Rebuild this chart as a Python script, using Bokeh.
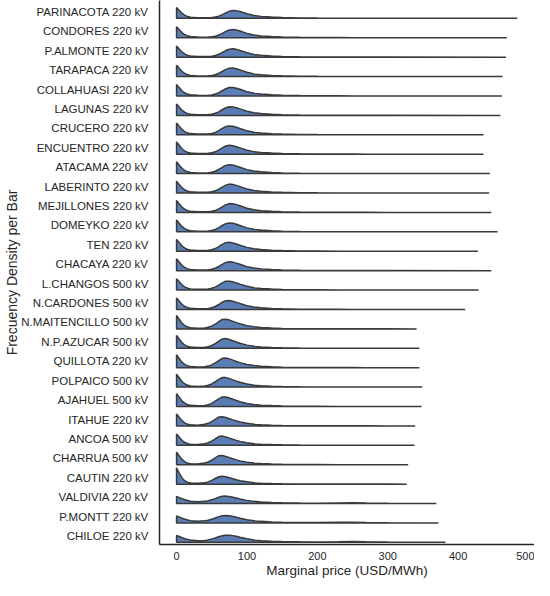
from bokeh.plotting import figure
from bokeh.models import ColumnDataSource, FixedTicker, Range1d
from bokeh.embed import file_html
from bokeh.resources import INLINE

stations = [
    "PARINACOTA 220 kV", "CONDORES 220 kV", "P.ALMONTE 220 kV", "TARAPACA 220 kV",
    "COLLAHUASI 220 kV", "LAGUNAS 220 kV", "CRUCERO 220 kV", "ENCUENTRO 220 kV",
    "ATACAMA 220 kV", "LABERINTO 220 kV", "MEJILLONES 220 kV", "DOMEYKO 220 kV",
    "TEN 220 kV", "CHACAYA 220 kV", "L.CHANGOS 500 kV", "N.CARDONES 500 kV",
    "N.MAITENCILLO 500 kV", "N.P.AZUCAR 500 kV", "QUILLOTA 220 kV", "POLPAICO 500 kV",
    "AJAHUEL 500 kV", "ITAHUE 220 kV", "ANCOA 500 kV", "CHARRUA 500 kV",
    "CAUTIN 220 kV", "VALDIVIA 220 kV", "P.MONTT 220 kV", "CHILOE 220 kV",
]

# maximum marginal price of each bar (USD/MWh)
max_price = [484, 469, 468, 463, 462, 460, 436, 436, 445, 444, 447, 456, 428, 447,
             429, 410, 341, 345, 345, 349, 348, 339, 338, 329, 327, 369, 372, 382]

# price grid (USD/MWh) at which the densities were read
price_grid = [0, 4, 8, 12, 16, 20, 30, 40, 45, 50, 55, 60, 65, 70, 75, 80, 85, 90,
              100, 110, 120, 135, 150, 175, 200, 230, 250, 270, 300]

# relative frequency density per bar at price_grid
density_rows = [
    [11.0, 8.0, 5.0, 3.0, 1.8, 1.2, 0.7, 0.6, 0.7, 0.9, 1.3, 2.2, 3.7, 5.6, 7.3, 8.0, 7.8, 7.0, 4.7, 2.9, 2.0, 1.3, 0.8, 0.4, 0.25, 0.15, 0.1, 0.08, 0.05],
    [11.0, 8.0, 5.0, 3.0, 1.8, 1.2, 0.7, 0.6, 0.7, 1.0, 1.6, 2.8, 4.5, 6.5, 7.9, 8.3, 7.8, 6.8, 4.4, 2.8, 1.9, 1.2, 0.8, 0.4, 0.25, 0.15, 0.1, 0.08, 0.05],
    [11.2, 8.1, 5.0, 3.0, 1.8, 1.2, 0.7, 0.6, 0.7, 1.0, 1.7, 2.9, 4.7, 6.7, 8.1, 8.5, 7.9, 6.8, 4.4, 2.8, 1.9, 1.2, 0.8, 0.4, 0.25, 0.15, 0.1, 0.08, 0.05],
    [11.5, 8.2, 5.0, 3.0, 1.8, 1.2, 0.7, 0.6, 0.8, 1.1, 1.9, 3.3, 5.3, 7.3, 8.5, 8.6, 7.9, 6.8, 4.3, 2.7, 1.9, 1.2, 0.75, 0.4, 0.22, 0.14, 0.1, 0.07, 0.05],
    [11.5, 8.2, 5.0, 3.0, 1.8, 1.2, 0.7, 0.6, 0.8, 1.1, 1.9, 3.3, 5.3, 7.3, 8.5, 8.6, 7.9, 6.8, 4.3, 2.7, 1.9, 1.2, 0.75, 0.4, 0.22, 0.14, 0.1, 0.07, 0.05],
    [11.5, 8.2, 5.0, 3.0, 1.8, 1.2, 0.7, 0.6, 0.8, 1.2, 2.1, 3.6, 5.7, 7.7, 8.7, 8.5, 7.7, 6.6, 4.2, 2.7, 1.9, 1.2, 0.75, 0.4, 0.22, 0.14, 0.1, 0.07, 0.05],
    [12.0, 8.5, 5.2, 3.0, 1.8, 1.2, 0.7, 0.7, 0.9, 1.4, 2.4, 4.2, 6.4, 8.3, 9.0, 8.6, 7.6, 6.4, 4.0, 2.6, 1.8, 1.1, 0.7, 0.35, 0.2, 0.12, 0.1, 0.07, 0.05],
    [12.5, 8.8, 5.3, 3.0, 1.8, 1.2, 0.7, 0.7, 0.9, 1.4, 2.4, 4.2, 6.4, 8.3, 9.0, 8.6, 7.6, 6.4, 4.0, 2.6, 1.8, 1.1, 0.7, 0.35, 0.2, 0.12, 0.1, 0.07, 0.05],
    [12.0, 8.5, 5.2, 3.0, 1.8, 1.2, 0.7, 0.7, 0.9, 1.4, 2.4, 4.2, 6.4, 8.3, 9.0, 8.6, 7.6, 6.4, 4.0, 2.6, 1.8, 1.1, 0.7, 0.35, 0.2, 0.12, 0.1, 0.07, 0.05],
    [12.0, 8.5, 5.2, 3.0, 1.8, 1.2, 0.7, 0.7, 0.9, 1.3, 2.2, 3.9, 6.0, 8.0, 9.0, 8.7, 7.7, 6.5, 4.1, 2.6, 1.8, 1.1, 0.7, 0.35, 0.2, 0.12, 0.1, 0.07, 0.05],
    [12.0, 8.5, 5.2, 3.0, 1.8, 1.2, 0.7, 0.7, 0.8, 1.2, 2.0, 3.6, 5.7, 7.8, 8.9, 8.8, 7.9, 6.7, 4.2, 2.7, 1.8, 1.1, 0.7, 0.35, 0.2, 0.12, 0.1, 0.07, 0.05],
    [12.0, 8.5, 5.2, 3.0, 1.8, 1.2, 0.7, 0.7, 0.9, 1.4, 2.4, 4.2, 6.4, 8.3, 9.0, 8.6, 7.6, 6.4, 4.0, 2.6, 1.8, 1.1, 0.7, 0.35, 0.2, 0.12, 0.1, 0.07, 0.05],
    [12.0, 8.5, 5.2, 3.0, 1.8, 1.2, 0.7, 0.7, 1.0, 1.6, 2.7, 4.6, 6.9, 8.7, 9.0, 8.4, 7.3, 6.1, 3.9, 2.5, 1.7, 1.0, 0.65, 0.32, 0.2, 0.12, 0.09, 0.06, 0.05],
    [12.0, 8.5, 5.2, 3.0, 1.8, 1.2, 0.7, 0.7, 0.9, 1.4, 2.4, 4.2, 6.4, 8.3, 9.0, 8.6, 7.6, 6.4, 4.0, 2.6, 1.8, 1.1, 0.7, 0.35, 0.2, 0.12, 0.1, 0.07, 0.05],
    [11.5, 8.2, 5.0, 3.0, 1.8, 1.2, 0.7, 0.8, 1.1, 1.8, 3.0, 5.0, 7.3, 8.9, 9.0, 8.3, 7.2, 6.0, 3.8, 2.4, 1.7, 1.0, 0.65, 0.32, 0.2, 0.12, 0.09, 0.06, 0.05],
    [11.5, 8.2, 5.0, 3.0, 1.8, 1.2, 0.7, 0.8, 1.1, 1.8, 3.0, 5.0, 7.3, 8.9, 9.0, 8.3, 7.2, 6.0, 3.8, 2.4, 1.7, 1.0, 0.65, 0.32, 0.2, 0.12, 0.09, 0.06, 0.05],
    [13.5, 9.5, 5.5, 3.2, 1.8, 1.2, 0.7, 1.0, 1.6, 2.8, 4.8, 7.2, 9.5, 9.8, 8.9, 7.6, 6.3, 5.1, 3.2, 2.1, 1.4, 0.9, 0.5, 0.25, 0.15, 0.1, 0.08, 0.05, 0.04],
    [13.0, 9.2, 5.4, 3.1, 1.8, 1.2, 0.7, 1.0, 1.6, 2.8, 4.8, 7.2, 9.5, 9.8, 8.9, 7.6, 6.3, 5.1, 3.2, 2.1, 1.4, 0.9, 0.5, 0.25, 0.15, 0.1, 0.08, 0.05, 0.04],
    [13.0, 9.2, 5.4, 3.1, 1.8, 1.2, 0.7, 1.0, 1.6, 2.8, 4.8, 7.2, 9.5, 9.8, 8.9, 7.6, 6.3, 5.1, 3.2, 2.1, 1.4, 0.9, 0.5, 0.25, 0.15, 0.1, 0.08, 0.05, 0.04],
    [13.0, 9.2, 5.4, 3.1, 1.8, 1.2, 0.7, 1.1, 1.8, 3.2, 5.4, 7.8, 9.7, 9.6, 8.6, 7.3, 6.0, 4.9, 3.1, 2.0, 1.4, 0.9, 0.5, 0.25, 0.15, 0.1, 0.08, 0.05, 0.04],
    [13.0, 9.2, 5.4, 3.1, 1.8, 1.2, 0.7, 1.1, 1.8, 3.2, 5.4, 7.8, 9.7, 9.6, 8.6, 7.3, 6.0, 4.9, 3.1, 2.0, 1.4, 0.9, 0.5, 0.25, 0.15, 0.1, 0.08, 0.05, 0.04],
    [12.0, 8.5, 5.0, 2.8, 1.6, 1.1, 0.8, 1.6, 2.6, 4.3, 6.6, 8.9, 9.3, 8.5, 7.3, 6.1, 5.0, 4.0, 2.6, 1.7, 1.2, 0.8, 0.5, 0.25, 0.15, 0.1, 0.08, 0.05, 0.04],
    [11.5, 8.2, 4.8, 2.8, 1.6, 1.1, 0.8, 1.6, 2.6, 4.3, 6.6, 8.9, 9.3, 8.5, 7.3, 6.1, 5.0, 4.0, 2.6, 1.7, 1.2, 0.8, 0.5, 0.25, 0.15, 0.1, 0.08, 0.05, 0.04],
    [12.7, 8.9, 5.2, 2.9, 1.6, 1.1, 0.8, 1.7, 2.8, 4.6, 6.9, 9.1, 9.3, 8.4, 7.2, 6.0, 4.9, 3.9, 2.5, 1.7, 1.2, 0.8, 0.5, 0.25, 0.15, 0.1, 0.08, 0.05, 0.04],
    [16.5, 11.0, 6.0, 3.2, 1.8, 1.2, 0.8, 1.5, 2.3, 3.8, 5.7, 7.5, 8.0, 7.4, 6.4, 5.4, 4.4, 3.5, 2.3, 1.5, 1.0, 0.7, 0.45, 0.22, 0.14, 0.1, 0.07, 0.05, 0.04],
    [7.2, 6.0, 4.8, 3.8, 3.0, 2.4, 1.7, 2.2, 2.8, 3.8, 5.0, 6.4, 7.3, 7.5, 7.1, 6.4, 5.6, 4.7, 3.2, 2.2, 1.5, 1.0, 0.7, 0.45, 0.35, 0.6, 0.8, 0.5, 0.25],
    [7.0, 5.9, 4.7, 3.7, 2.9, 2.3, 1.7, 2.2, 2.8, 3.8, 5.0, 6.4, 7.3, 7.6, 7.2, 6.5, 5.7, 4.8, 3.3, 2.3, 1.6, 1.0, 0.7, 0.45, 0.35, 0.6, 0.8, 0.5, 0.25],
    [7.0, 5.9, 4.7, 3.7, 2.9, 2.3, 1.7, 2.0, 2.5, 3.3, 4.4, 5.7, 6.7, 7.3, 7.3, 6.8, 6.1, 5.2, 3.6, 2.5, 1.7, 1.1, 0.75, 0.5, 0.4, 0.6, 0.85, 0.55, 0.3],
]

x_ticks = [0, 100, 200, 300, 400, 500]

# ---- build the ridges ----
n = len(stations)
px_per_row = 19.6          # vertical pixel spacing of the rows in the reference
label_shift = 0.33         # baseline sits a little below its label
xs, ys = [], []
for i in range(n):
    base = (n - 1 - i) - label_shift
    dens = density_rows[i]
    xs.append([0] + price_grid + [max_price[i], 0])
    ys.append([base] + [base + d / px_per_row for d in dens] + [base, base])

src = ColumnDataSource(dict(xs=xs, ys=ys))

p = figure(width=534, height=580,
           x_range=Range1d(-24.2, 508.4), y_range=Range1d(-0.44, 27.59),
           output_backend="svg", toolbar_location=None,
           min_border_left=159, min_border_right=0, min_border_top=0, min_border_bottom=36)

p.patches("xs", "ys", source=src, fill_color="#4C72B0", fill_alpha=0.92,
          line_color="#3a3a3a", line_width=1.5)

p.outline_line_color = None
p.xgrid.grid_line_color = None
p.ygrid.grid_line_color = None
p.background_fill_color = "white"
p.border_fill_color = "white"

font = "Liberation Sans"
p.xaxis.ticker = FixedTicker(ticks=x_ticks)
p.yaxis.ticker = FixedTicker(ticks=[n - 1 - i for i in range(n)])
p.yaxis.major_label_overrides = {n - 1 - i: stations[i] for i in range(n)}

for ax in (p.xaxis[0], p.yaxis[0]):
    ax.major_tick_line_color = None
    ax.minor_tick_line_color = None
    ax.major_tick_out = 0
    ax.major_tick_in = 0
    ax.minor_tick_out = 0
    ax.minor_tick_in = 0
    ax.axis_line_color = "#262626"
    ax.axis_line_width = 1.5
    ax.major_label_text_font = font
    ax.major_label_text_color = "#262626"
    ax.axis_label_text_font = font
    ax.axis_label_text_font_style = "normal"
    ax.axis_label_text_color = "#262626"

p.xaxis.major_label_text_font_size = "11px"
p.yaxis.major_label_text_font_size = "11.5px"
p.xaxis.axis_label_text_font_size = "13.5px"
p.yaxis.axis_label_text_font_size = "14px"
p.xaxis.axis_label = "Marginal price (USD/MWh)"
p.yaxis.axis_label = "Frecuency Density per Bar"
p.xaxis.major_label_standoff = 7
p.yaxis.major_label_standoff = 11
p.xaxis.axis_label_standoff = 0
p.yaxis.axis_label_standoff = -2

open("out.html", "w").write(file_html(p, INLINE))
